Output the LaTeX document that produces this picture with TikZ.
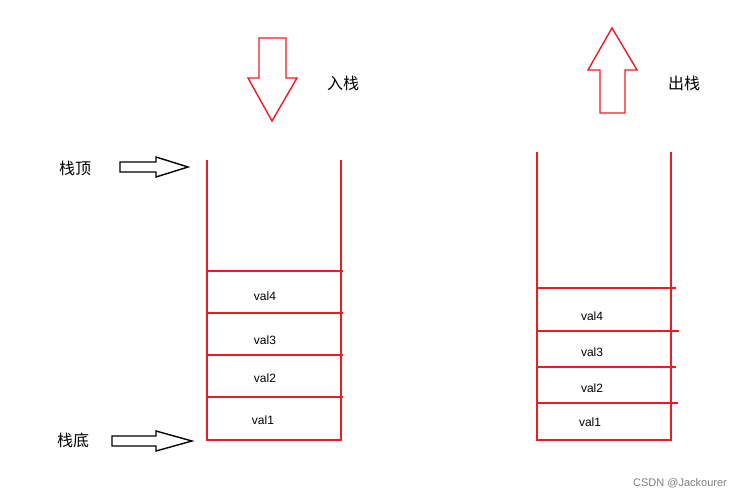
\documentclass[tikz,border=0pt]{standalone}
\usepackage{fontspec}
\setmainfont{Liberation Sans}
\newfontfamily\cjk{Noto Sans CJK SC}
\begin{document}
\begin{tikzpicture}[x=1pt,y=-1pt,
  red line/.style={draw={rgb,255:red,237;green,28;blue,36},line width=1.6pt},
  val/.style={font=\fontsize{12}{14}\selectfont},
  cn/.style={font=\cjk\fontsize{16}{18}\selectfont},
  hollow/.style={draw=black,line width=1.4pt,fill=white}]
\useasboundingbox (0,0) rectangle (749,498);
\fill[white] (0,0) rectangle (749,498);
% left stack
\draw[red line] (207,160) -- (207,440) -- (341,440) -- (341,160);
\foreach \y in {271,313,355,397} \draw[red line] (207,\y) -- (343,\y);
\node[val] (l4) at (265,296) {val4};
\node[val] (l3) at (265,340) {val3};
\node[val] (l2) at (265,378) {val2};
\node[val] (l1) at (263,420) {val1};
% push arrow
\draw[red line,line width=1.4pt] (259,38) -- (286,38) -- (286,78) -- (297,78) -- (272,121) -- (248,78) -- (259,78) -- cycle;
\node[cn] (push) at (343,83) {入栈};
% right stack
\draw[red line] (537,152) -- (537,440) -- (671,440) -- (671,152);
\foreach \y/\e in {288/676,331/679,367/676,403/678} \draw[red line] (537,\y) -- (\e,\y);
\node[val] (r4) at (592,316) {val4};
\node[val] (r3) at (592,352) {val3};
\node[val] (r2) at (592,388) {val2};
\node[val] (r1) at (590,422) {val1};
% pop arrow
\draw[red line,line width=1.4pt] (600,113) -- (625,113) -- (625,70) -- (637,70) -- (612,28) -- (588,70) -- (600,70) -- cycle;
\node[cn] (pop) at (684,83) {出栈};
% labels with hollow arrows
\node[cn] (top) at (75,168) {栈顶};
\draw[hollow] (120,162) -- (156,162) -- (156,157) -- (188,167) -- (156,177) -- (156,172) -- (120,172) -- cycle;
\node[cn] (bot) at (73,440) {栈底};
\draw[hollow] (112,436) -- (156,436) -- (156,431) -- (192,441) -- (156,451) -- (156,446) -- (112,446) -- cycle;
\node[font=\fontsize{11}{13}\selectfont,text=gray] (wm) at (680,483) {CSDN @Jackourer};
\end{tikzpicture}
\end{document}
